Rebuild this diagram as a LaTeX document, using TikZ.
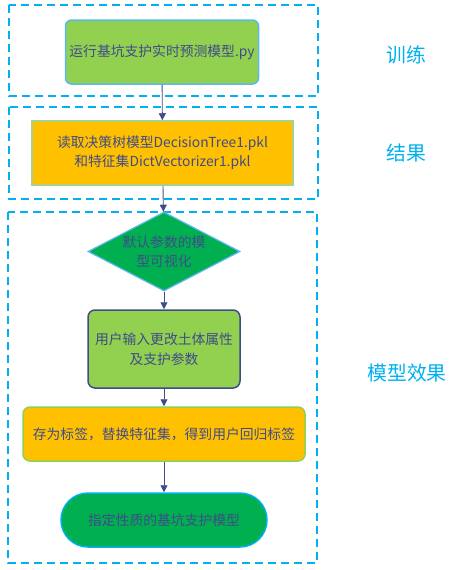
\documentclass[tikz,border=0pt]{standalone}
\usepackage{fontspec}
\setmainfont{Noto Sans CJK SC}
\usepackage{tikz}
\usetikzlibrary{shapes.geometric, arrows.meta}

\definecolor{lgreen}{HTML}{92D050}
\definecolor{dgreen}{HTML}{00B050}
\definecolor{gold}{HTML}{FFC000}
\definecolor{sky}{HTML}{00B0F0}
\definecolor{lsky}{HTML}{5BB8F2}
\definecolor{ink}{HTML}{404B8A}
\definecolor{sage}{HTML}{A9D18E}

\begin{document}
\begin{tikzpicture}[x=1pt, y=-1pt,
    every node/.style={text=ink, font=\fontsize{13.8}{19.5}\selectfont, align=center},
    stage/.style={draw=sky, line width=2pt, dash pattern=on 8pt off 5pt},
    tag/.style={text=sky, font=\fontsize{19.8}{24}\selectfont},
    flow/.style={ink, line width=0.9pt, -{Triangle[length=7pt, width=7pt]}}]
        \useasboundingbox (0,0) rectangle (456,570);
        % Dashed stages
        \draw[stage] (9,5) rectangle (318,96);
        \draw[stage] (9,107) rectangle (318,199);
        \draw[stage] (8,212) rectangle (317,563);
        % Stage labels
        \node[tag] (train) at (406,55) {训练};
        \node[tag] (result) at (406,153) {结果};
        \node[tag] (effect) at (407,373) {模型效果};
        % Steps
        \node[draw=lsky, line width=1.5pt, fill=lgreen, rounded corners=6pt,
              minimum width=193pt, minimum height=64pt] (run) at (162,52) {运行基坑支护实时预测模型.py};
        \node[draw=sage, line width=1.5pt, fill=gold,
              minimum width=261pt, minimum height=64pt] (load) at (162.5,153) {读取决策树模型DecisionTree1.pkl\\和特征集DictVectorizer1.pkl};
        \node[diamond, draw=lsky, line width=1.2pt, fill=dgreen, aspect=1.92, inner sep=0pt,
              minimum width=152pt, minimum height=79pt] (show) at (164,251.5) {默认参数的模\\型可视化};
        \node[draw=ink, line width=1.5pt, fill=lgreen, rounded corners=7pt,
              minimum width=152pt, minimum height=78pt] (input) at (164,349) {用户输入更改土体属性\\及支护参数};
        \node[draw=lgreen, line width=1.5pt, fill=gold, rounded corners=7pt,
              minimum width=282pt, minimum height=54pt] (label) at (164,434) {存为标签，替换特征集，得到用户回归标签};
        \node[draw=sky, line width=1.5pt, fill=dgreen, rounded corners=27pt,
              minimum width=206pt, minimum height=54pt] (model) at (164,520) {指定性质的基坑支护模型};
        % Connectors
        \draw[flow] (run) -- (load);
        \draw[flow] (load) -- (show);
        \draw[flow] (show) -- (input);
        \draw[flow] (input) -- (label);
        \draw[flow] (label) -- (model);
    \end{tikzpicture}
\end{document}
